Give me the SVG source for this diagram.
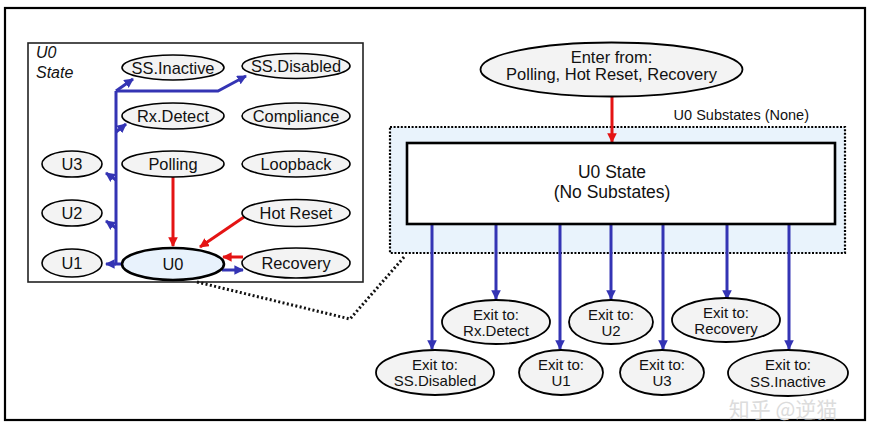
<svg xmlns="http://www.w3.org/2000/svg" width="873" height="437" viewBox="0 0 873 437">
<style>
text{font-family:"Liberation Sans",Arial,sans-serif;fill:#111;text-anchor:middle}
.st{fill:#f3f3f3;stroke:#000;stroke-width:1.6}
.ex{fill:#f3f3f3;stroke:#000;stroke-width:1.8}
.tl{font-size:16.4px}
.te{font-size:15px}
.b{stroke:#3434b4;stroke-width:3;fill:none}
.r{stroke:#e41414;stroke-width:3;fill:none}
</style>
<defs>
<marker id="ab" viewBox="0 0 10 10" refX="9" refY="5" markerWidth="3.2" markerHeight="3.2" orient="auto" markerUnits="strokeWidth"><path d="M0,0L10,5L0,10z" fill="#3434b4"/></marker>
<marker id="ar" viewBox="0 0 10 10" refX="9" refY="5" markerWidth="3.2" markerHeight="3.2" orient="auto" markerUnits="strokeWidth"><path d="M0,0L10,5L0,10z" fill="#e41414"/></marker>
</defs>
<rect width="873" height="437" fill="#fff"/>
<rect x="5" y="8" width="860" height="412" fill="none" stroke="#000" stroke-width="2.2"/>
<g id="left-box">
<rect x="28" y="43" width="335" height="239" fill="#fff" stroke="#222" stroke-width="1.6"/>
<text x="36" y="58" style="text-anchor:start;font-style:italic;font-size:16px">U0</text>
<text x="36" y="78" style="text-anchor:start;font-style:italic;font-size:16px">State</text>
</g>
<g id="substates-box">
<rect x="390" y="127" width="455" height="126" fill="#e9f3fc" stroke="#000" stroke-width="2.2" stroke-dasharray="2,1.6"/>
<text x="809" y="120" style="text-anchor:end;font-size:14.5px">U0 Substates (None)</text>
</g>
<g id="connectors">
<path class="b" d="M123,264H116V91"/>
<path class="b" d="M116,264H106" marker-end="url(#ab)"/>
<path class="b" d="M116,180L106,173" marker-end="url(#ab)"/>
<path class="b" d="M116,228L106,221" marker-end="url(#ab)"/>
<path class="b" d="M116,132L126,124" marker-end="url(#ab)"/>
<path class="b" d="M116,91L133,79" marker-end="url(#ab)"/>
<path class="b" d="M116,91H218L246,76" marker-end="url(#ab)"/>
<path class="b" d="M222,270H243" marker-end="url(#ab)"/>
<path class="r" d="M173,177V246" marker-end="url(#ar)"/>
<path class="r" d="M244,217L200,247" marker-end="url(#ar)"/>
<path class="r" d="M243,257H223" marker-end="url(#ar)"/>
<path d="M197,282L350,319L405,256" fill="none" stroke="#111" stroke-width="3" stroke-dasharray="2,2.4"/>
<path class="r" d="M612,97V142" marker-end="url(#ar)"/>
<path class="b" d="M432,225V349" marker-end="url(#ab)"/>
<path class="b" d="M496,225V299" marker-end="url(#ab)"/>
<path class="b" d="M560,225V349" marker-end="url(#ab)"/>
<path class="b" d="M611,225V299" marker-end="url(#ab)"/>
<path class="b" d="M663,225V349" marker-end="url(#ab)"/>
<path class="b" d="M727,225V299" marker-end="url(#ab)"/>
<path class="b" d="M789,225V349" marker-end="url(#ab)"/>
</g>
<g id="n-ssinactive"><ellipse class="st" cx="173" cy="67.5" rx="51" ry="12.5"/><text x="173" y="73.5" class="tl">SS.Inactive</text></g>
<g id="n-ssdisabled"><ellipse class="st" cx="296" cy="66" rx="54" ry="12.5"/><text x="296" y="72" class="tl">SS.Disabled</text></g>
<g id="n-rxdetect"><ellipse class="st" cx="173" cy="116" rx="51" ry="13"/><text x="173" y="122" class="tl">Rx.Detect</text></g>
<g id="n-compliance"><ellipse class="st" cx="296" cy="116" rx="54" ry="13"/><text x="296" y="122" class="tl">Compliance</text></g>
<g id="n-u3"><ellipse class="st" cx="72" cy="164" rx="30" ry="13"/><text x="72" y="170" class="tl">U3</text></g>
<g id="n-polling"><ellipse class="st" cx="173" cy="164" rx="51" ry="13"/><text x="173" y="170" class="tl">Polling</text></g>
<g id="n-loopback"><ellipse class="st" cx="296" cy="164" rx="54" ry="13"/><text x="296" y="170" class="tl">Loopback</text></g>
<g id="n-u2"><ellipse class="st" cx="72" cy="213" rx="30" ry="13"/><text x="72" y="219" class="tl">U2</text></g>
<g id="n-hotreset"><ellipse class="st" cx="296" cy="213" rx="54" ry="13.5"/><text x="296" y="219" class="tl">Hot Reset</text></g>
<g id="n-u1"><ellipse class="st" cx="72" cy="263" rx="30" ry="14"/><text x="72" y="269" class="tl">U1</text></g>
<g id="n-u0"><ellipse cx="173" cy="264" rx="51" ry="16" fill="#e8f2fc" stroke="#000" stroke-width="2.6"/><text x="173" y="270" class="tl">U0</text></g>
<g id="n-recovery"><ellipse class="st" cx="296" cy="263" rx="54" ry="15"/><text x="296" y="269" class="tl">Recovery</text></g>
<g id="n-enter"><ellipse class="ex" cx="611.5" cy="69.5" rx="131" ry="27"/><text x="611.5" y="63" style="font-size:16.5px">Enter from:</text><text x="611.5" y="80" style="font-size:16.5px">Polling, Hot Reset, Recovery</text></g>
<g id="n-u0state"><rect x="407" y="143" width="428" height="81" fill="#fff" stroke="#000" stroke-width="2.6"/><text x="612" y="178" style="font-size:17.5px">U0 State</text><text x="612" y="198" style="font-size:17.5px">(No Substates)</text></g>
<g id="n-x-ssdisabled"><ellipse class="ex" cx="435" cy="372.5" rx="59" ry="22.5"/><text x="435" y="369.5" class="te">Exit to:</text><text x="435" y="386" class="te">SS.Disabled</text></g>
<g id="n-x-rxdetect"><ellipse class="ex" cx="496" cy="322" rx="54" ry="22"/><text x="496" y="319.5" class="te">Exit to:</text><text x="496" y="336" class="te">Rx.Detect</text></g>
<g id="n-x-u1"><ellipse class="ex" cx="561" cy="372.5" rx="42" ry="22.5"/><text x="561" y="369.5" class="te">Exit to:</text><text x="561" y="386" class="te">U1</text></g>
<g id="n-x-u2"><ellipse class="ex" cx="611" cy="322" rx="42" ry="22"/><text x="611" y="319.5" class="te">Exit to:</text><text x="611" y="336" class="te">U2</text></g>
<g id="n-x-u3"><ellipse class="ex" cx="662" cy="372.5" rx="42" ry="22.5"/><text x="662" y="369.5" class="te">Exit to:</text><text x="662" y="386" class="te">U3</text></g>
<g id="n-x-recovery"><ellipse class="ex" cx="726" cy="320" rx="54" ry="22"/><text x="726" y="317.5" class="te">Exit to:</text><text x="726" y="334" class="te">Recovery</text></g>
<g id="n-x-ssinactive"><ellipse class="ex" cx="788" cy="373" rx="60" ry="23"/><text x="788" y="370" class="te">Exit to:</text><text x="788" y="386.5" class="te">SS.Inactive</text></g>
<text x="783" y="417" style="font-family:'Noto Sans CJK SC',sans-serif;font-size:21px;fill:#dcdcdc">知乎 @逆猫</text>
</svg>
